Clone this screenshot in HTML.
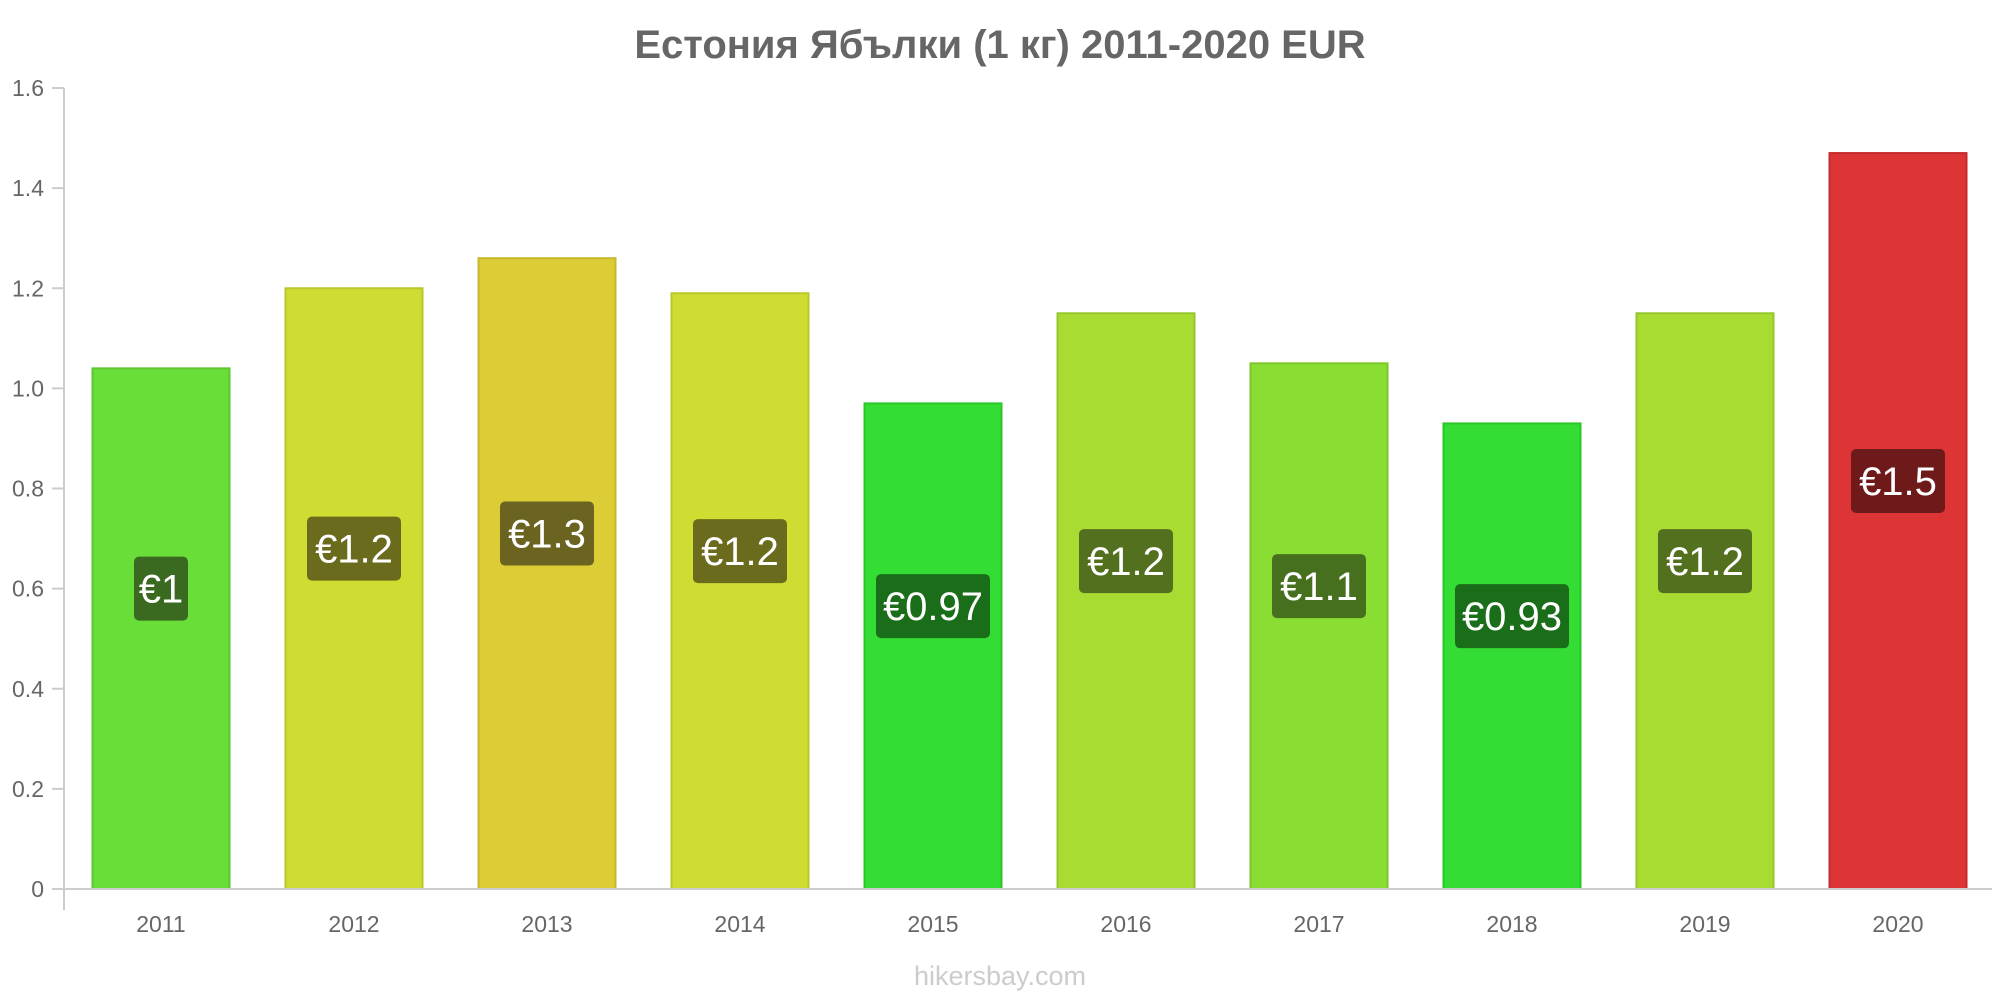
<!DOCTYPE html>
<html><head><meta charset="utf-8">
<style>
html,body{margin:0;padding:0;background:#fff;}
svg{display:block;font-family:"Liberation Sans","Noto Sans CJK SC",sans-serif;}
</style></head>
<body>
<svg id="chart" width="2000" height="1000" viewBox="0 0 2000 1000">
<text x="1000" y="58" text-anchor="middle" font-size="40" font-weight="bold" fill="#666">Естония Ябълки (1 кг) 2011-2020 EUR</text>
<g id="yaxis"></g>
<g id="bars"></g>
<g id="xaxis"></g>
<text x="1000" y="985" text-anchor="middle" font-size="27" fill="#ccc">hikersbay.com</text>
</svg>
<script>
const years = ["2011","2012","2013","2014","2015","2016","2017","2018","2019","2020"];
const values = [1.04,1.2,1.26,1.19,0.97,1.15,1.05,0.93,1.15,1.47];
const labels = ["€1","€1.2","€1.3","€1.2","€0.97","€1.2","€1.1","€0.93","€1.2","€1.5"];
const yTicks = [0,0.2,0.4,0.6,0.8,1.0,1.2,1.4,1.6];
const yTickLabels = ["0","0.2","0.4","0.6","0.8","1.0","1.2","1.4","1.6"];

const NS="http://www.w3.org/2000/svg";
const y0=889, yTop=88, yMax=1.6;
const yScale=v=>y0-(v/yMax)*(y0-yTop);
const x0=64, x1=1992, step=193, bw=137;
const xScale=i=>161+i*step;
function colors(v){
  if(v>=1.4) return ["#dd3535","#c62a2a","#6e1a1a"];
  if(v>=1.25) return ["#dccc35","#c6b82a","#6b6420"];
  if(v>=1.17) return ["#cfdd33","#bac62a","#6b6b1e"];
  if(v>=1.1) return ["#a8dc33","#96c62a","#53701e"];
  if(v>=1.045) return ["#8ade33","#7cc62a","#46701e"];
  if(v>=1.0) return ["#6ade38","#5ec62e","#3a6a1f"];
  return ["#33dd33","#2ac62a","#1a6e1a"];
}
function mk(tag,attrs,parent){const e=document.createElementNS(NS,tag);for(const k in attrs)e.setAttribute(k,attrs[k]);parent.appendChild(e);return e;}
const ya=document.getElementById("yaxis"), xa=document.getElementById("xaxis"), bg=document.getElementById("bars");
let l=mk("line",{x1:x0,y1:yTop,x2:x0,y2:910,stroke:"#ccc","stroke-width":2},ya);


yTicks.forEach((t,i)=>{
  const y=yScale(t);
  const tk=mk("line",{x1:x0-12,y1:y,x2:x0,y2:y,stroke:"#ccc","stroke-width":2},ya);
  
  
  const tx=mk("text",{x:44,y:y+8,"text-anchor":"end","font-size":23,fill:"#666"},ya);
  tx.textContent=yTickLabels[i];
  
  
});
let xl=mk("line",{x1:x0,y1:y0,x2:x1,y2:y0,stroke:"#ccc","stroke-width":2},xa);


years.forEach((yr,i)=>{
  const cx=xScale(i), v=values[i], c=colors(v), top=yScale(v);
  const r=mk("rect",{x:cx-bw/2,y:top,width:bw,height:y0-top,fill:c[0],stroke:c[1],"stroke-width":2},bg);
  
  
  const ly=yScale(v/2+0.08);
  const lab=labels[i];
  const w=lab.length*20+14;
  const lb=mk("rect",{x:cx-w/2,y:ly-32,width:w,height:64,rx:5,fill:c[2]},bg);
  
  
  const lt=mk("text",{x:cx,y:ly+14,"text-anchor":"middle","font-size":40,fill:"#fff"},bg);
  lt.textContent=lab;
  
  
  const xt=mk("text",{x:cx,y:932,"text-anchor":"middle","font-size":23,fill:"#666"},xa);
  xt.textContent=yr;
  
  
});
</script>
</body></html>
